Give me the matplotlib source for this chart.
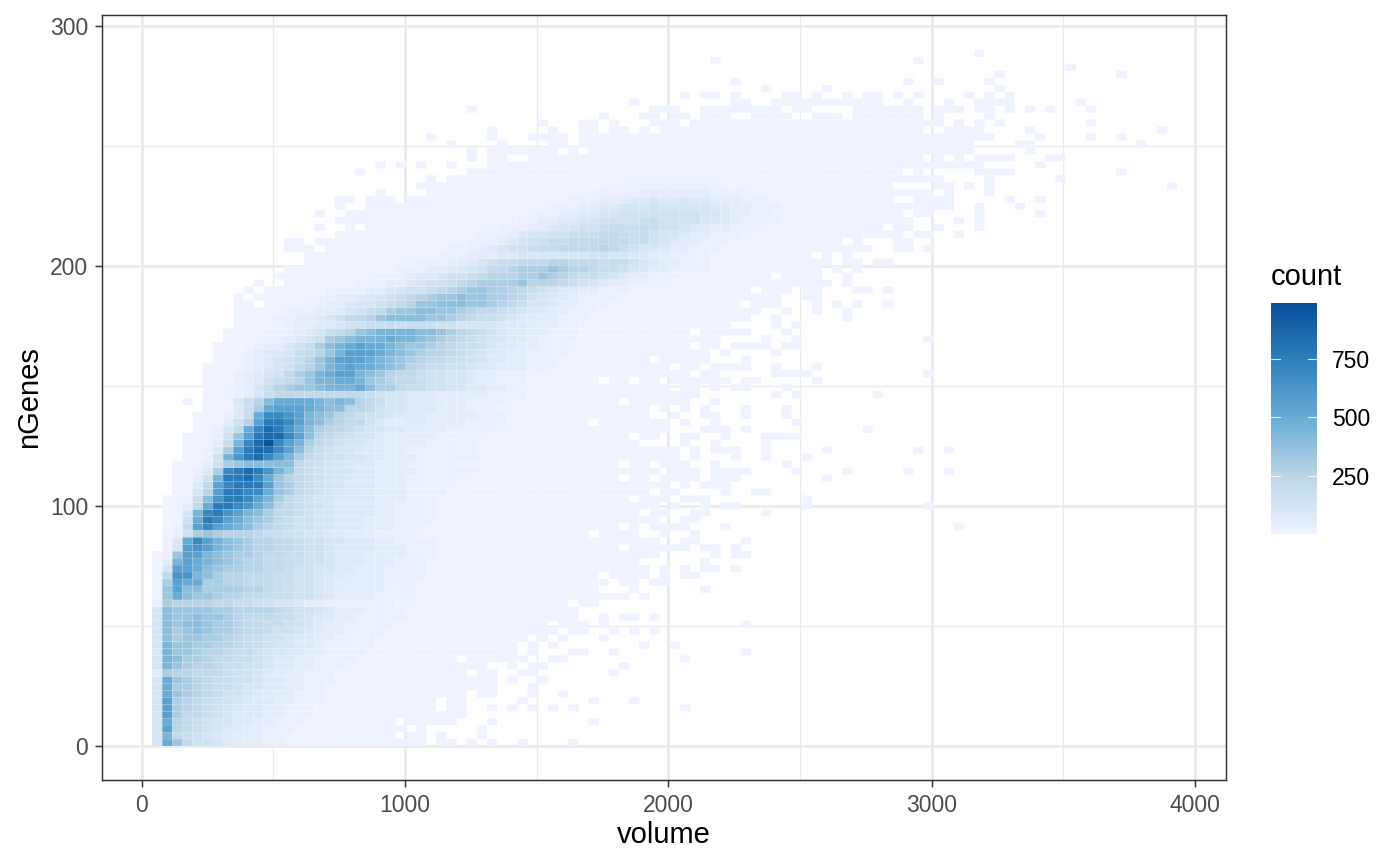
#!/usr/bin/env python3
import numpy as np
import matplotlib
matplotlib.use("Agg")
import matplotlib.pyplot as plt
from matplotlib.colors import LinearSegmentedColormap, Normalize

# each character is one bin: . = empty, else index into LEVEL_CODES
LEVEL_CODES = "0123456789abcdefghijk"
LEVEL_COUNTS = [2, 15, 35, 60, 90, 120, 155, 190, 230, 265, 305, 350, 400, 450, 510, 570, 635, 705, 780, 860, 980]

# rows from top (bin 99) down to bin 70, blanks split every ten columns, "." alone = ten empty bins
ROWS_TOP = [
    ". . . . . . . . .0",
    ". . . . . .....0 . .....0",
    ". . . . . . . . . 0",
    ". . . . . . . . ...0 .....0",
    ". . . . . .......0 . ....0..0 ..0",
    ". . . . . . 0.....0 . ...0",
    ". . . . . ..0.00.0 ..00.0..0. 00.0.0 0.0.0",
    ". . . . .......0 .......00. .000000000 00..0...0. .0000 .0",
    ". . . .0 .........0 00..000000 00.00....0 000000.000 .00.0.0.0. ..0",
    ". . . . ....0...00 .00.000..0 000..000.0 000000.0 ..0",
    ". . . ........0. ..00.0...0 00.0000000 0000000000 00000000.0 .0.0 ..0",
    ". . . ...0.....0 ..00.00.0. 0000000000 0000000000 000000..00 00....0 .........0",
    ". . .......0 ...0...000 0.00000000 0000000000 0000000000 0000000000 000....0 ..0..0",
    ". . .........0 ....0....0 0.00000000 0000000000 0000000000 0000000000 0....00 .......0",
    ". . . .0.0000000 .0.0000000 0000000000 0000000000 0000000000 0.....0",
    ". . . .0.00..000 0000000000 0000000000 0000000000 000000.0.0 .0000...00",
    ". . ..0.0.0..0 ...0000000 0000000000 0000000000 0000000000 0000000000 00.....0",
    ". . 0 .000000000 0000000000 0000000000 0000000000 0000.0 .0000 .....0",
    ". . .......0.0 0000000000 0000111111 1111111111 0000000000 00000000 ..0......0",
    ". . ......0000 0000000000 0011112222 2222221111 1110000000 000....00. 0.0 . 0",
    ". . ..0....000 0000000001 1112222233 3333322221 1110000000 0000000.0. ..0",
    ". ........00 .000.00000 0000001111 1222333445 4454433322 2111100000 000..0000. ....0..0",
    ". ........0. .000000000 0000011112 2233445556 5555544332 2211110000 000000000. .0...0",
    ". ......0..0 0000000000 0001111122 3344556666 6666554332 2111110000 0000.00 .0.....0",
    ". ........00 0000000000 0011112233 4455666677 6666544322 2211110000 00000....0 .0",
    ". ......0..0 .000000000 0111222334 5566777777 6654433222 1111110000 00.00..0 .0",
    ". ........00 0000001111 1122234556 6777887776 5543322211 1111100000 0000.00..0",
    ". ...00.0000 0000011111 1222345667 7888888776 5433222111 00000000.0 ...00",
    ". ...000.000 0000111112 2234566777 8888987655 4332221111 1100000000 0..00.0",
    ". .....00000 0011111122 2333445555 5556655443 3222211111 00000.0.0.",
]

# bins 69 to 40, the dense ridge
ROWS_RIDGE = [
    ". .....00000 0111112223 3456778889 9888777654 3322211111 0000000.00 .00",
    ". ...0000001 1111222334 456889aaab a998776543 3222211100 000000.0.0",
    ". ..00001111 1122234456 678999aaba 9877654332 2211110000 0.0000..0.",
    ". 0..0011111 2223345667 89aaaab999 8765433221 1110000000 0000000.0.",
    ".........0 .001111222 2334566789 abbaa98765 4433222111 100000000. 000.00...0 0.0",
    "........0. 0011122233 4456789abb cbbaa98654 4322221111 1000000000 00..00",
    "........00 .011122334 556789bbcc cbba987554 3322211110 00000000.0 00...0.0.0 ..0",
    "........00 0112223345 678abbccbb a988765443 3222111100 0000000000 ..0..0..0.",
    "........00 1122334568 89bccccbba 9877654433 2221111000 000000000. .0......0.",
    "........00 1112334456 6777777766 5555444333 2211111000 0000000 .0.0",
    ".......000 1222345789 bcddddccba 9876544332 2211111000 000.00000. ..0",
    ".......001 1223456abc dddeddcba9 8765544322 2211100000 000000 0..0 ......0",
    "......0001 233567acde feedcbba98 7765443322 2111100000 000.00.000 0.00",
    "......0012 3445789bdf ffedcba998 7654433222 2111000000 00000.0 .0",
    "......0012 345679bdff fedcba9887 6654433222 111000000. 00000...0",
    ".....00012 345689bdef eedcb98776 6544333222 1110000000 0.00.0000. .0...0",
    ".....00123 4568abdeff dcb9887665 5433222111 1100000000 000.00 .0000 ......0",
    ".....00123 46789bddee dba9887665 5433222111 1100.00.00 .000000.00 .....0",
    ".....00123 579abbcddd ecaa877665 5443322111 1110000000 0.00.0.00. ..0",
    ".....00123 5788888888 8765544433 3332222111 1000000000 0000 .0.0 .0",
    "...0.00157 9ceeeedcdc 9875544433 3222211111 000000.000 000..0",
    ".....00147 aefffedcc9 9865544433 3222111111 000000000. 0.0.0...0. ..0",
    "....001247 ehhgfdcb98 7665444333 3322211111 000000000. .0..00..0. ..0",
    "....001369 fiihfdca98 8643344333 3222211111 000.000000 0.0..0 ...0",
    "....01258e hjigeca987 6554433332 2222111110 0000000000 0...000.0. . 0",
    "...00126bf ijjhfc9876 5543333322 2221111100 0000000.00 ..00..0 0000",
    "...00137dh jkhfda8765 5443333222 2211111100 00000000 ..0..0 0",
    "...0124afi jjhfc97655 4443322222 2211111100 0000000000 00.0.000 0.....0 .....0..0",
    "...0126dgi jhfda87665 5443332222 2211111100 0000000000 00.0...0 0...0",
    "..00136abc cccc876554 4433322222 1111111100 000000.00. 000..0 ..0",
]

# bins 39 to 0, the lower left block
ROWS_BOTTOM = [
    "..0024ahij igdb876555 4433332222 2211111100 0000000000 .000.0000. ...0....0. ....0...0",
    "..0136diij heb9876554 4433322222 2111111100 000000.00. 0000.000 ......0",
    "..0148fhii ifba876554 4433322222 1111111000 0000000000 0.0.000",
    "..0159fiih heba876554 4433322221 1111111000 000000000. 00....0..0 0",
    ".0027cgiih fda8765544 4433322211 1111110000 0000000.00 0.000 ....0",
    ".0138eiihg ec98766544 4433222211 1111100000 0000000000 .0..0.00 ....0 ......0",
    ".015dhigfd ca88765544 4433222211 1111100000 00000000.0 0..00 0",
    ".016eihfec ba87665544 4333222211 1111100000 0000000000 ..00",
    ".027fhfedc a987665544 4333222111 1111000000 000000.0.0 000...0 . .........0",
    ".026aba999 8776655443 3322221111 1111000000 000.0000 0..0",
    ".14ehfdcba 9988766554 4433222211 1111100000 0000000000 ..00....0",
    ".15fgfdcba 9988766544 4433322211 1111100000 000000.000 000.00.0",
    "02bffdcbaa 9887766544 4333322211 1110000000 0000000000 .....0.00",
    "03dfedcba9 9887766544 4333222111 1110000000 00000000 ....0",
    "05ffecbaa9 9887665544 3332222111 1110000000 000000000. 0.0.00.0",
    "08ggdca998 8877665443 3332222111 1110000000 0000.0000. 0.00",
    "1afeeaa998 8877665433 3332221111 1100000000 00000.00.0 0",
    "1bfccaaaa9 9876665433 3332221110 1100000000 0000...0 ....0",
    "1becbba998 8777665433 3322221110 0000000000 0000000.0.",
    "2a99998877 6655433222 2222111100 0000000000 0.00",
    "5cbbbbaa99 9987665433 3222211110 0000000000 00",
    "5cbbcbba98 8877654433 2222211100 0000000000 00..0.00.0",
    "5cbccbaa98 8776654332 2222111100 000000000. 000.0 ........0",
    "5cabcbaa98 8766544332 2221111000 0000000000 .00..0.0.0",
    "5cabbaa987 7665443322 2211111000 0000000.0. 0...0",
    "5dbbaa9987 7655443222 2211110000 000000.0.0 ........0 .0",
    "5dbba99877 6554433222 2111100000 000000.0 .00..0 ........0",
    "5dcaa98877 6544332222 1111100000 .000000..0 0 ..0",
    "5dba998776 6544332221 1111000000 000..0.00. ......0",
    "3a99888766 5433322211 1110000000 0.00..00 .....0",
    "5eba987766 5443322211 1110000000 0000.0..0",
    "5eaa987765 5443322111 1100000000 0000...0",
    "5eba987665 4433222111 1100000000 0.00...0 0",
    "5fa9876654 4433222111 10000000.0 0.....0 ...0...0",
    "5fa9876554 4332221111 00000000.0 0..0.0.0.0 .0 ..0",
    "5fa8876544 4332221110 0000000000 0",
    "5e98765544 3322211100 0000.00000 ...0 ...0",
    "5f98765443 3222111000 00000.0 ..0",
    "5d87654433 3221111000 0000.00.0. ..0",
    "5eb8665433 3221111000 0000000.00 .0.0..0 .0",
]

GRID_COLOR = "#EBEBEB"
TEXT_FONT = ["Liberation Sans", "DejaVu Sans"]
PALETTE = ["#EFF3FF", "#BDD7E7", "#6BAED6", "#3182BD", "#08519C"]


def decodeRows(rows):
    out = []
    for row in rows:
        cells = "".join(g.ljust(10, ".")[:10] for g in row.split()).ljust(101, ".")[:101]
        out.append([np.nan if c == "." else LEVEL_COUNTS[LEVEL_CODES.index(c)] for c in cells])
    return out


plt.rcParams["font.family"] = TEXT_FONT

counts = np.array(decodeRows(ROWS_TOP + ROWS_RIDGE + ROWS_BOTTOM), dtype=float)[::-1]
x_edges = 39 + 38.55 * np.arange(counts.shape[1] + 1)
y_edges = 2.9 * np.arange(counts.shape[0] + 1)

W, H = 1400, 865
fig = plt.figure(figsize=(W / 100, H / 100), dpi=100)
ax = fig.add_axes([102 / W, 1 - 780 / H, (1226 - 102) / W, (780 - 15) / H])

cmap = LinearSegmentedColormap.from_list("blues5", PALETTE)
norm = Normalize(1, 990)

ax.set_axisbelow(True)
# pcolor leaves masked bins out altogether, so the thin seams only show on real cells
mesh = ax.pcolor(x_edges, y_edges, np.ma.masked_invalid(counts), cmap=cmap, norm=norm,
                 edgecolors=(1, 1, 1, 0.22), linewidth=0.3, zorder=2)

ax.set_xlim(-151.2, 4117.7)
ax.set_ylim(-14.17, 304.6)
ax.set_xticks([0, 1000, 2000, 3000, 4000])
ax.set_yticks([0, 100, 200, 300])
ax.set_xticks([500, 1500, 2500, 3500], minor=True)
ax.set_yticks([50, 150, 250], minor=True)
ax.grid(True, which="major", color=GRID_COLOR, lw=2.0, zorder=0)
ax.grid(True, which="minor", color=GRID_COLOR, lw=1.0, zorder=0)
ax.tick_params(which="minor", length=0)
ax.tick_params(which="major", length=5, width=1.05, color="#333333", labelcolor="#4D4D4D",
               labelsize=16.5, pad=5)
for spine in ax.spines.values():
    spine.set_color("#333333")
    spine.set_linewidth(1.05)
    spine.set_zorder(5)

ax.set_xlabel("volume", fontsize=21)
ax.set_ylabel("nGenes", fontsize=21)
ax.xaxis.set_label_coords(0.5, -(835 - 780) / 765)
ax.yaxis.set_label_coords(-(102 - 29) / 1124, 0.5)
ax.xaxis.label.set_va("center")
ax.yaxis.label.set_va("center")

# legend bar
cax = fig.add_axes([1271 / W, 1 - 534 / H, 46 / W, 231 / H])
cb = fig.colorbar(mesh, cax=cax, ticks=[250, 500, 750])
cb.outline.set_visible(False)
cb.solids.set_edgecolor("face")
cax.tick_params(length=0, labelsize=16.5, pad=10.8, labelcolor="black")
for v in [250, 500, 750]:
    cax.plot([0, 0.2], [v, v], color="white", lw=0.8, alpha=0.8, clip_on=False)
    cax.plot([0.8, 1], [v, v], color="white", lw=0.8, alpha=0.8, clip_on=False)
cax.set_xlim(0, 1)
fig.text(1271 / W, 1 - 277 / H, "count", fontsize=21, va="center", ha="left")

fig.savefig("out.png", dpi=100)
